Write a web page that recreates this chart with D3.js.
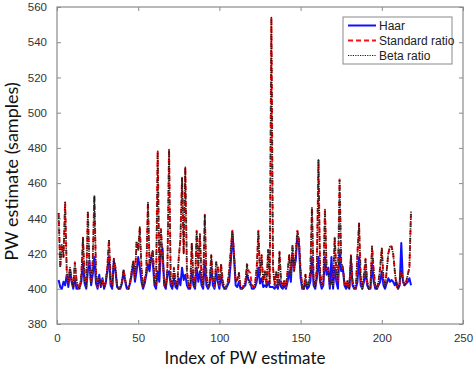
<!DOCTYPE html>
<html><head><meta charset="utf-8">
<script src="https://cdn.jsdelivr.net/npm/d3@7"></script>
<style>body{margin:0;background:#fff}svg{display:block}</style>
</head><body>
<script>
const xTicks = [0, 50, 100, 150, 200, 250];
const yTicks = [380, 400, 420, 440, 460, 480, 500, 520, 540, 560];
const seriesNames = ["Haar", "Standard ratio", "Beta ratio"];

const haar = [
405,401,400,404,402,408,401,410,404,400,
406,400,400,401,404,415,403,400,410,416,
402,408,418,403,400,408,401,406,400,403,
410,418,402,400,416,410,401,400,400,403,
410,404,400,400,403,408,414,404,410,418,
412,404,400,403,408,414,410,418,415,402,
400,410,404,420,423,402,400,408,410,402,
400,406,401,400,406,402,412,405,408,402,
400,400,410,402,400,412,404,410,402,400,
416,402,400,402,412,402,400,410,404,400,
408,402,400,400,402,404,415,432,418,402,
401,404,400,400,401,402,408,405,404,400,
400,401,404,412,403,406,401,402,401,404,
401,401,401,400,402,400,405,401,400,402,
400,404,410,404,420,412,416,430,425,406,
400,400,404,400,401,404,418,402,400,406,
418,404,400,402,418,408,412,400,418,400,
412,404,400,422,410,412,402,400,402,400,
416,402,400,400,404,418,402,400,404,410,
402,400,400,414,404,400,400,402,404,410,
402,400,403,406,404,405,404,402,404,400,
402,426,404,402,403,404,406,402];

const standardRatio = [
443,412,425,418,449,410,404,412,405,401,
415,405,401,400,408,429,405,401,444,412,
403,416,453,410,401,406,402,405,401,404,
412,428,406,401,417,412,402,400,401,404,
411,405,401,400,404,410,416,406,427,422,
435,412,401,405,410,449,413,418,422,404,
402,478,410,434,418,404,401,412,479,406,
401,412,404,401,418,428,463,420,469,410,
402,400,426,405,401,433,412,431,406,402,
442,408,401,404,419,405,401,415,412,402,
414,405,400,401,403,410,422,433,420,404,
405,409,401,400,402,404,414,410,409,402,
401,403,412,433,408,419,404,410,402,422,
403,554,412,402,410,401,421,404,401,405,
401,410,419,408,425,410,420,433,428,410,
402,400,408,401,403,410,446,406,401,412,
473,410,402,404,445,412,410,402,405,401,
429,410,404,462,415,412,404,401,405,400,
419,404,401,400,420,437,406,400,408,417,
404,400,401,424,410,402,400,404,412,423,
406,401,410,420,424,424,420,410,402,400,
403,410,405,402,404,408,412,444];

const betaRatio = [
443,412,425,418,449,410,404,412,405,401,
415,405,401,400,408,429,405,401,444,412,
403,416,453,410,401,406,402,405,401,404,
412,428,406,401,417,412,402,400,401,404,
411,405,401,400,404,410,416,406,427,422,
435,412,401,405,410,449,413,418,422,404,
402,478,410,434,418,404,401,412,479,406,
401,412,404,401,418,428,463,420,469,410,
402,400,426,405,401,433,412,431,406,402,
442,408,401,404,419,405,401,415,412,402,
414,405,400,401,403,410,422,433,420,404,
405,409,401,400,402,404,414,404,402,402,
401,403,412,433,408,419,404,410,402,422,
403,554,412,402,410,401,421,404,401,405,
401,410,419,408,425,410,420,433,428,410,
402,400,408,401,403,410,446,406,401,412,
473,410,402,404,445,412,410,402,405,401,
429,410,404,462,415,412,404,401,405,400,
419,404,401,400,420,437,406,400,408,417,
404,400,401,424,410,402,400,404,412,423,
406,401,410,420,424,424,420,410,402,400,
403,410,405,402,404,408,412,444];

const W = 474, H = 368;
const m = {left: 57, right: 11, top: 7, bottom: 44};
const iw = W - m.left - m.right, ih = H - m.top - m.bottom;

const svg = d3.select("body").append("svg").attr("width", W).attr("height", H);
const g = svg.append("g").attr("transform", `translate(${m.left},${m.top})`);

const x = d3.scaleLinear().domain([0, 250]).range([0, iw]);
const y = d3.scaleLinear().domain([380, 560]).range([ih, 0]);

const axisColor = "#8a8a8a";
const tickFont = "'Liberation Sans', Arial, sans-serif";

function styleAxis(sel, showLabels) {
  sel.select(".domain").remove();
  sel.selectAll(".tick line").attr("stroke", axisColor);
  sel.selectAll(".tick text").attr("fill", "#333").style("font-family", tickFont).style("font-size", "11.5px");
  if (!showLabels) sel.selectAll(".tick text").remove();
}

g.append("g").attr("transform", `translate(0,${ih})`)
  .call(d3.axisBottom(x).tickValues(xTicks).tickSize(-4).tickPadding(10))
  .call(s => styleAxis(s, true));
g.append("g")
  .call(d3.axisTop(x).tickValues(xTicks).tickSize(-4))
  .call(s => styleAxis(s, false));
g.append("g")
  .call(d3.axisLeft(y).tickValues(yTicks).tickSize(-4).tickPadding(10))
  .call(s => styleAxis(s, true));
g.append("g").attr("transform", `translate(${iw},0)`)
  .call(d3.axisRight(y).tickValues(yTicks).tickSize(-4))
  .call(s => styleAxis(s, false));

g.append("rect").attr("x", 0).attr("y", 0).attr("width", iw).attr("height", ih)
  .attr("fill", "none").attr("stroke", axisColor).attr("stroke-width", 1.2);

const line = d3.line().x((d, i) => x(i + 1)).y(d => y(d));

const styles = [
  {data: haar, color: "#1010ff", width: 2, dash: null},
  {data: standardRatio, color: "#ff1010", width: 2, dash: "5,3"},
  {data: betaRatio, color: "#1a1a1a", width: 1.6, dash: "1.2,1.2"}
];

svg.append("clipPath").attr("id", "clip").append("rect")
  .attr("width", iw).attr("height", ih);

styles.forEach(s => {
  g.append("path").datum(s.data).attr("d", line)
    .attr("fill", "none").attr("stroke", s.color).attr("stroke-width", s.width)
    .attr("stroke-dasharray", s.dash).attr("stroke-linejoin", "round")
    .attr("clip-path", "url(#clip)");
});

// legend
const lg = svg.append("g").attr("transform", "translate(343,17)");
lg.append("rect").attr("width", 109).attr("height", 47).attr("fill", "#fff")
  .attr("stroke", axisColor).attr("stroke-width", 1);
seriesNames.forEach((name, i) => {
  const yy = 8.5 + i * 15;
  const st = styles[i];
  lg.append("line").attr("x1", 5).attr("x2", 33).attr("y1", yy).attr("y2", yy)
    .attr("stroke", st.color).attr("stroke-width", i === 2 ? 1.2 : 2)
    .attr("stroke-dasharray", st.dash);
  lg.append("text").attr("x", 36).attr("y", yy + 4).text(name)
    .style("font-family", tickFont).style("font-size", "12px").attr("fill", "#222");
});

// axis labels
svg.append("text").attr("x", 245).attr("y", 364)
  .attr("text-anchor", "middle").text("Index of PW estimate")
  .style("font-family", "Lato, 'Open Sans', sans-serif").style("font-size", "17px").attr("fill", "#111");
svg.append("text").attr("transform", `translate(18,${m.top + ih / 2 + 6}) rotate(-90)`)
  .attr("text-anchor", "middle").text("PW estimate (samples)")
  .style("font-family", "Lato, 'Open Sans', sans-serif").style("font-size", "18px").attr("fill", "#111");
</script>
</body></html>
